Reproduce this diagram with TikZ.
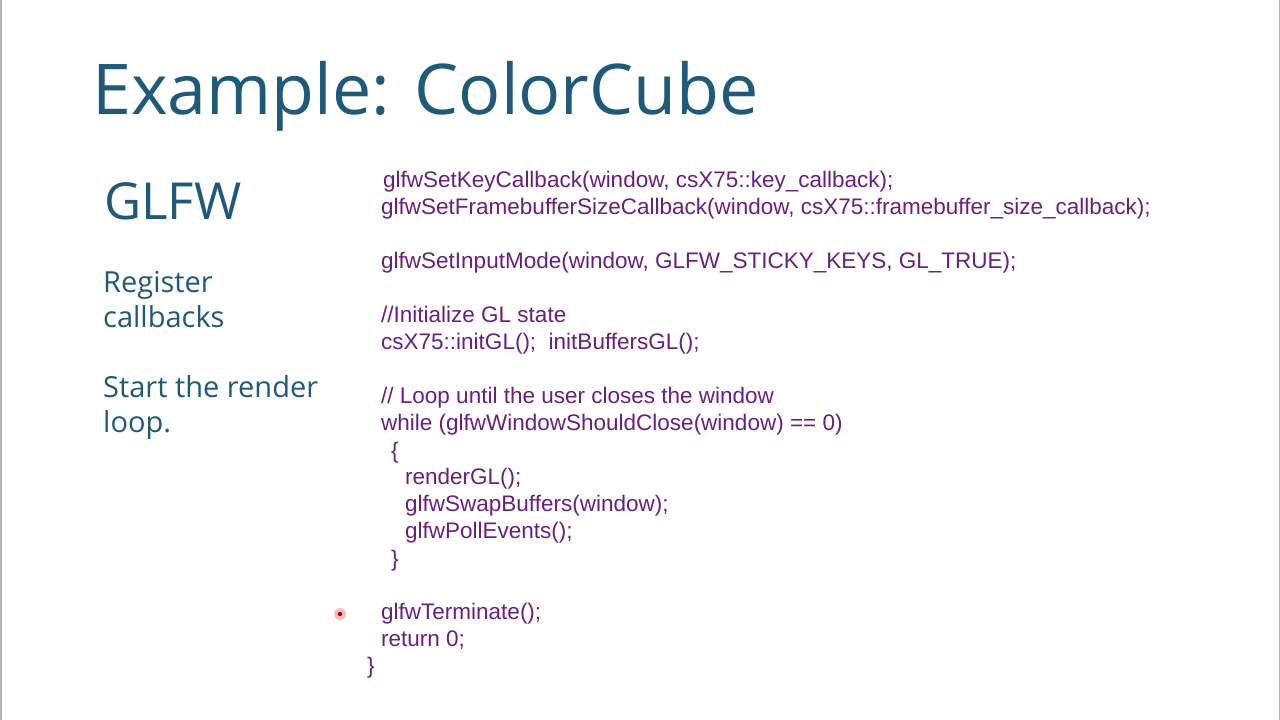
\documentclass[tikz,border=0pt]{standalone}
\usepackage{fontspec}
\setmainfont{Open Sans}
\newfontfamily\codefont{Liberation Sans}
\definecolor{ttl}{HTML}{1F5A7A}
\definecolor{code}{HTML}{6A1F80}
\begin{document}
\begin{tikzpicture}[x=1pt,y=-1pt,
  tt/.style={anchor=base west,inner sep=0pt,text=ttl},
  cd/.style={anchor=base west,inner sep=0pt,text=code,font=\codefont\fontsize{22.5}{26}\selectfont}]
\useasboundingbox (0,0) rectangle (1280,720);
\fill[white] (0,0) rectangle (1280,720);
\draw[gray!60,line width=1.5pt] (0.75,0) -- (0.75,720) (1279.25,0) -- (1279.25,720);
\node[tt,font=\fontsize{70}{76}\selectfont] (title) at (92,114) {Example: ColorCube};
\node[tt,font=\fontsize{51}{56}\selectfont] (glfw) at (104,219) {GLFW};
\node[tt,font=\fontsize{29}{34}\selectfont] (r1) at (103,292) {Register};
\node[tt,font=\fontsize{29}{34}\selectfont] (r2) at (103,327) {callbacks};
\node[tt,font=\fontsize{29}{34}\selectfont] (s1) at (103,397) {Start the render};
\node[tt,font=\fontsize{29}{34}\selectfont] (s2) at (103,432) {loop.};
\node[cd] (c1) at (383,187) {glfwSetKeyCallback(window, csX75::key\_callback);};
\node[cd] (c2) at (381,214) {glfwSetFramebufferSizeCallback(window, csX75::framebuffer\_size\_callback);};
\node[cd] (c3) at (381,268) {glfwSetInputMode(window, GLFW\_STICKY\_KEYS, GL\_TRUE);};
\node[cd] (c4) at (381,322) {//Initialize GL state};
\node[cd] (c5) at (381,349) {csX75::initGL();\ \ initBuffersGL();};
\node[cd] (c6) at (381,403) {// Loop until the user closes the window};
\node[cd] (c7) at (381,430) {while (glfwWindowShouldClose(window) == 0)};
\node[cd] (c8) at (391,458) {\{};
\node[cd] (c9) at (405,484) {renderGL();};
\node[cd] (c10) at (405,511) {glfwSwapBuffers(window);};
\node[cd] (c11) at (405,538) {glfwPollEvents();};
\node[cd] (c12) at (391,566) {\}};
\node[cd] (c13) at (381,619) {glfwTerminate();};
\node[cd] (c14) at (381,646) {return 0;};
\node[cd] (c15) at (367,673) {\}};
\fill[red!25] (340,614) circle (6);
\fill[red!70!black] (340,614) circle (2.2);
\end{tikzpicture}
\end{document}
